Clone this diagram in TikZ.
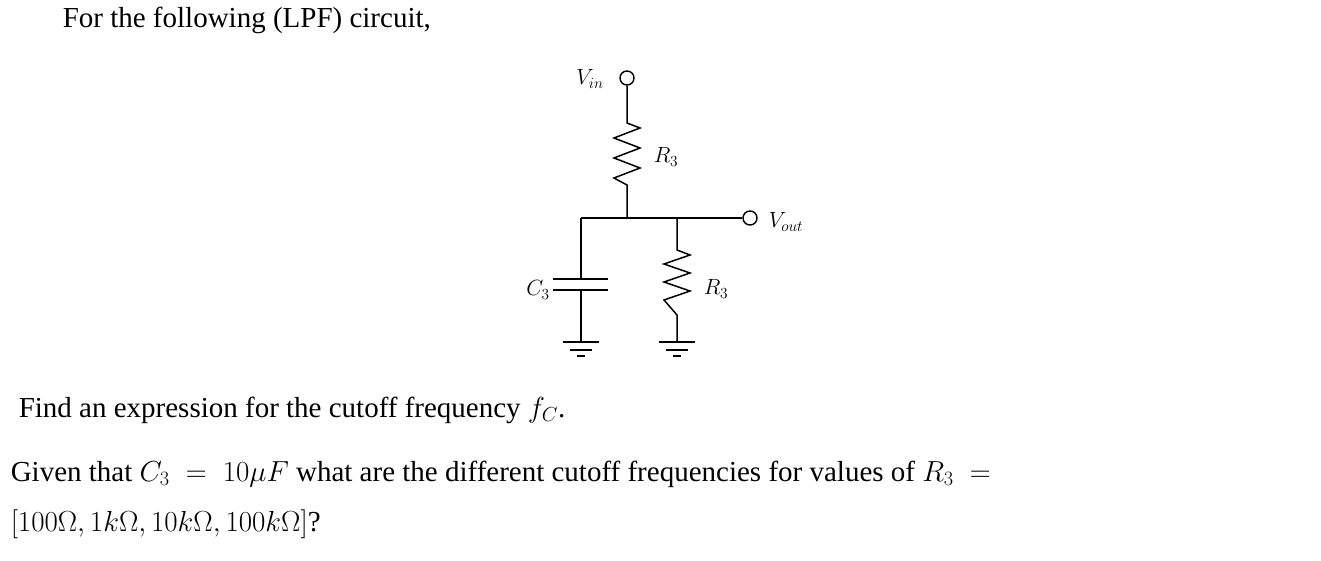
\RequirePackage{fix-cm}
\documentclass[tikz,border=0pt]{standalone}
\usepackage{fontspec}
\setmainfont{Liberation Serif}
\begin{document}
\begin{tikzpicture}[x=1pt,y=-1pt,line width=1.5pt,
  lbl/.style={inner sep=0pt,font=\fontsize{22}{26}\selectfont},
  txt/.style={anchor=base west,inner sep=0pt,font=\fontsize{29}{34}\selectfont},
  term/.style={circle,draw,fill=white,minimum size=14pt,inner sep=0pt,line width=1.4pt}]
\useasboundingbox (0,0) rectangle (1321,561);
\node[txt] (t1) at (62,28) {For the following (LPF) circuit,};
\node[txt] (t2) at (18,417) {Find an expression for the cutoff frequency $f_C$.};
\node[txt] (t3) at (10,481) {Given that $C_3\;=\;10\mu F$ what are the different cutoff frequencies for values of $R_3\;=$};
\node[txt] (t4) at (10,531) {$[100\Omega,1k\Omega,10k\Omega,100k\Omega]$?};
% circuit
\node[term] (vin) at (627,78) {};
\node[term] (vout) at (750,218) {};
\coordinate (j1) at (627,218);
\coordinate (jc) at (581,218);
\coordinate (jr) at (677,218);
\draw (vin) -- (627,123) -- (640,128) -- (614,138) -- (640,148) -- (614,158) -- (640,168) -- (614,178) -- (627,185) -- (j1);
\draw (jc) -- (vout);
\draw (jc) -- (581,279) (553,279) -- (608,279) (553,290) -- (608,290) (581,290) -- (581,342);
\draw (jr) -- (677,250) -- (690,255) -- (664,264) -- (690,273) -- (664,282) -- (690,291) -- (664,300) -- (677,315) -- (677,342);
\foreach \x in {581,677}{
  \draw (\x-18,342) -- (\x+18,342) (\x-11,350) -- (\x+11,350) (\x-4,356) -- (\x+4,356);}
\node[lbl] (lvin) at (590,79) {$V_{in}$};
\node[lbl] (lr1) at (666,157) {$R_3$};
\node[lbl,anchor=west] (lvout) at (768,222) {$V_{out}$};
\node[lbl] (lc) at (538,290) {$C_3$};
\node[lbl] (lr2) at (716,289) {$R_3$};
\end{tikzpicture}
\end{document}
